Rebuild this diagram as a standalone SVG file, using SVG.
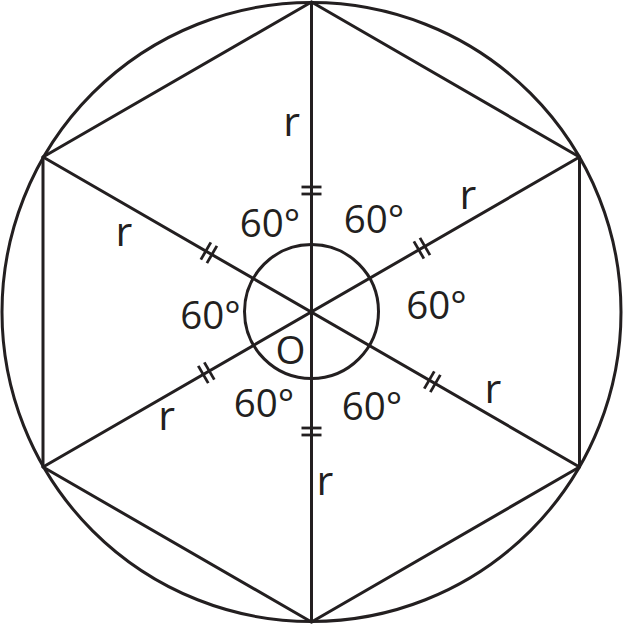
<svg xmlns="http://www.w3.org/2000/svg" width="623" height="624" viewBox="0 0 623 624">
<style>
.ln{fill:none;stroke:#231f20;stroke-width:3;stroke-linecap:round;stroke-linejoin:round}
.tk{fill:none;stroke:#231f20;stroke-width:2.8}
.ang{font-family:"Open Sans","Liberation Sans",sans-serif;font-size:38.5px;fill:#231f20}
.r{font-family:"Open Sans","Liberation Sans",sans-serif;font-size:41px;fill:#231f20}
</style>
<rect width="623" height="624" fill="#ffffff"/>
<g id="outer-circle"><circle class="ln" cx="311.5" cy="312" r="309.5"/></g>
<g id="hexagon"><polygon class="ln" points="311.5,2 579.5,157 579.5,467 311.5,622 43,467 43,157"/></g>
<g id="inner-circle"><circle class="ln" cx="311.5" cy="311.5" r="67"/></g>
<g id="connectors">
<line class="ln" x1="311.5" y1="2" x2="311.5" y2="622"/>
<line class="ln" x1="43" y1="157" x2="579.5" y2="467"/>
<line class="ln" x1="43" y1="467" x2="579.5" y2="157"/>
<g transform="translate(311.5,312) rotate(-90)"><line class="tk" x1="118" y1="-10" x2="118" y2="10"/><line class="tk" x1="125" y1="-10" x2="125" y2="10"/></g>
<g transform="translate(311.5,312) rotate(90)"><line class="tk" x1="116" y1="-10" x2="116" y2="10"/><line class="tk" x1="123" y1="-10" x2="123" y2="10"/></g>
<g transform="translate(311.5,312) rotate(-30)"><line class="tk" x1="124" y1="-10" x2="124" y2="10"/><line class="tk" x1="131" y1="-10" x2="131" y2="10"/></g>
<g transform="translate(311.5,312) rotate(30)"><line class="tk" x1="136" y1="-10" x2="136" y2="10"/><line class="tk" x1="143" y1="-10" x2="143" y2="10"/></g>
<g transform="translate(311.5,312) rotate(150)"><line class="tk" x1="118" y1="-10" x2="118" y2="10"/><line class="tk" x1="125" y1="-10" x2="125" y2="10"/></g>
<g transform="translate(311.5,312) rotate(210)"><line class="tk" x1="115" y1="-10" x2="115" y2="10"/><line class="tk" x1="122" y1="-10" x2="122" y2="10"/></g>
</g>
<g id="labels">
<text class="ang" x="270" y="237" text-anchor="middle">60°</text>
<text class="ang" x="374" y="233" text-anchor="middle">60°</text>
<text class="ang" x="436.5" y="319" text-anchor="middle">60°</text>
<text class="ang" x="210.5" y="329" text-anchor="middle">60°</text>
<text class="ang" x="264" y="417" text-anchor="middle">60°</text>
<text class="ang" x="372" y="420" text-anchor="middle">60°</text>
<text class="ang" x="290.5" y="364" text-anchor="middle">O</text>
<text class="r" x="283.3" y="136">r</text>
<text class="r" x="115.6" y="246">r</text>
<text class="r" x="459.6" y="209">r</text>
<text class="r" x="158.3" y="430">r</text>
<text class="r" x="484.6" y="403">r</text>
<text class="r" x="316.5" y="495">r</text>
</g>
</svg>
